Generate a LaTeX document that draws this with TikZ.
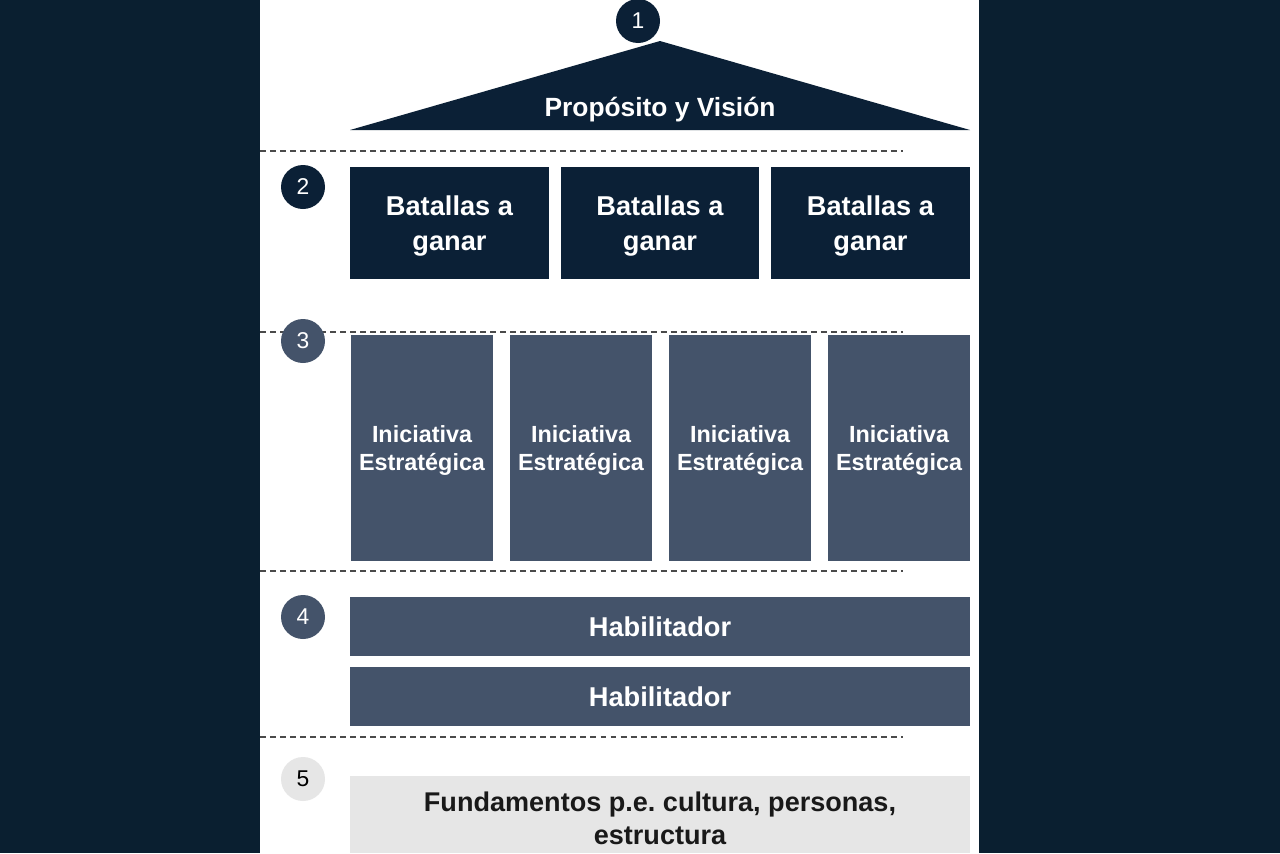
\documentclass[tikz,border=0pt]{standalone}
\usepackage{fontspec}
\setmainfont{Liberation Sans}
\usetikzlibrary{positioning}
\definecolor{navy}{HTML}{0B2036}
\definecolor{bgnavy}{HTML}{0A1F30}
\definecolor{slate}{HTML}{44536A}
\definecolor{fundgray}{HTML}{E6E6E6}
\definecolor{dashgray}{HTML}{4A4A4A}

\begin{document}
\begin{tikzpicture}[x=0.02cm,y=-0.02cm,every node/.style={inner sep=0pt},
  numdot/.style={circle,minimum size=0.88cm,font=\fontsize{13}{15}\selectfont},
  battlebox/.style={fill=navy,text=white,minimum width=3.98cm,minimum height=2.24cm,text depth=0pt,align=center,font=\bfseries\fontsize{15.5}{19.6}\selectfont},
  initbox/.style={fill=slate,text=white,minimum width=2.84cm,minimum height=4.52cm,text depth=0pt,align=center,font=\bfseries\fontsize{13.3}{16.4}\selectfont},
  enablerbox/.style={fill=slate,text=white,minimum width=12.4cm,minimum height=1.18cm,font=\bfseries\fontsize{15.5}{18}\selectfont},
  sepline/.style={dashgray,line width=.8pt,dash pattern=on 3.4pt off 2.3pt}]
\useasboundingbox (0,0) rectangle (1280,853);
\fill[bgnavy] (0,0) rectangle (1280,853);
\fill[white] (260,0) rectangle (979,853);
% separators
\coordinate (s1a) at (260,151);\coordinate (s1b) at (903,151);
\coordinate (s2a) at (260,332);\coordinate (s2b) at (903,332);
\coordinate (s3a) at (260,571);\coordinate (s3b) at (903,571);
\coordinate (s4a) at (260,737);\coordinate (s4b) at (903,737);
\draw[sepline] (s1a)--(s1b);
\draw[sepline] (s2a)--(s2b);
\draw[sepline] (s3a)--(s3b);
\draw[sepline] (s4a)--(s4b);
% roof
\coordinate (roofL) at (350,130);
\coordinate (apex) at (660,41);
\coordinate (roofR) at (970,130);
\fill[navy] (roofL)--(apex)--(roofR)--cycle;
\node[text=white,font=\bfseries\fontsize{15}{18}\selectfont] (purpose) at (660,110) {Propósito y Visión};
% step numbers
\node[numdot,fill=navy,text=white] (n1) at (638,21) {1};
\node[numdot,fill=navy,text=white] (n2) at (303,187) {2};
\node[numdot,fill=slate,text=white] (n3) at (303,341) {3};
\node[numdot,fill=slate,text=white] (n4) at (303,617) {4};
\node[numdot,fill=fundgray,text=black] (n5) at (303,779) {5};
% battles
\node[battlebox] (bat1) at (449.5,223) {Batallas a\\ganar};
\node[battlebox] (bat2) at (660,223) {Batallas a\\ganar};
\node[battlebox] (bat3) at (870.5,223) {Batallas a\\ganar};
% initiatives
\node[initbox] (ini1) at (422,448) {Iniciativa\\Estratégica};
\node[initbox] (ini2) at (581,448) {Iniciativa\\Estratégica};
\node[initbox] (ini3) at (740,448) {Iniciativa\\Estratégica};
\node[initbox] (ini4) at (899,448) {Iniciativa\\Estratégica};
% enablers
\node[enablerbox] (hab1) at (660,626.5) {Habilitador};
\node[enablerbox] (hab2) at (660,696.5) {Habilitador};
% foundations
\coordinate (fundTL) at (350,776);
\coordinate (fundBR) at (970,853);
\fill[fundgray] (fundTL) rectangle (fundBR);
\node[text=black!90,align=center,font=\bfseries\fontsize{15.4}{18.7}\selectfont] (fund) at (660,818) {Fundamentos p.e.\ cultura, personas,\\estructura};
\end{tikzpicture}
\end{document}
